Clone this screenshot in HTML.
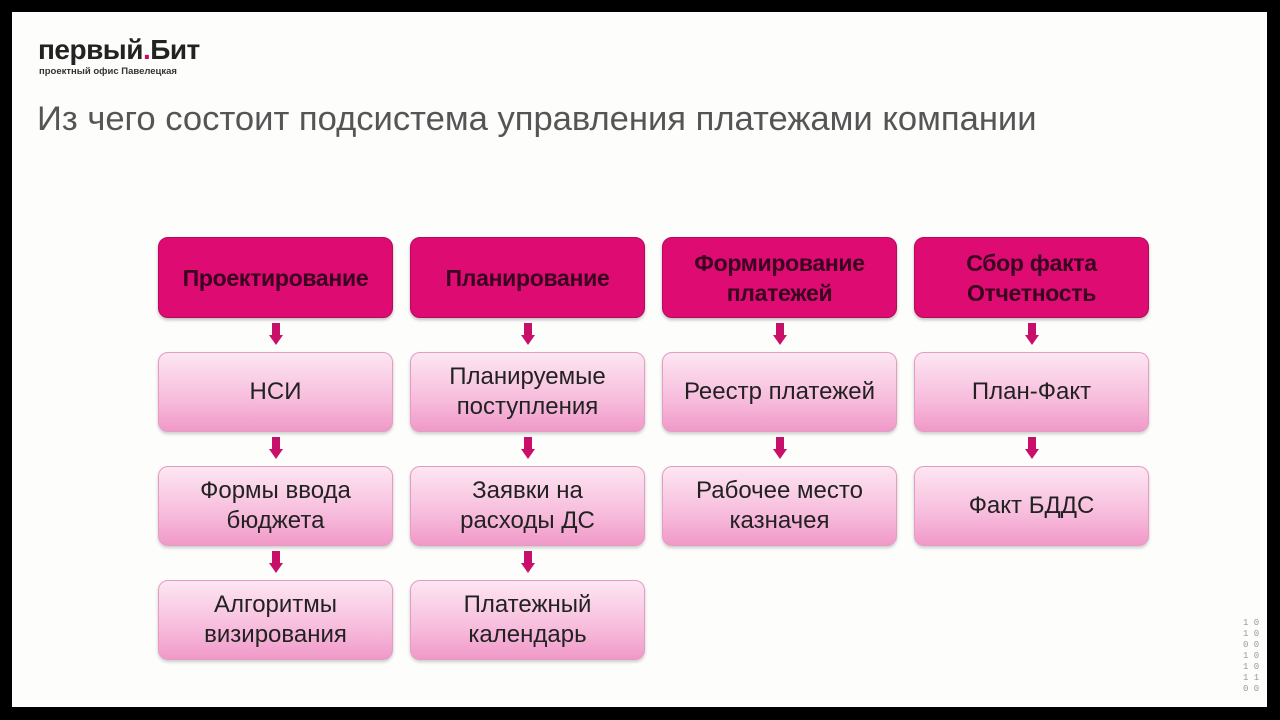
<!DOCTYPE html>
<html><head><meta charset="utf-8"><style>
body{margin:0;width:1280px;height:720px;background:#000;position:relative;overflow:hidden;font-family:"Liberation Sans",sans-serif}
.slide{position:absolute;left:12px;top:12px;width:1255px;height:695px;background:#fdfdfc}
.b{position:absolute;width:235px;border-radius:10px;display:flex;align-items:center;justify-content:center;text-align:center;font-size:24px;line-height:30px;color:#222;box-sizing:border-box}
.h{background:#dd0b72;border:1px solid #b8085e;color:#3a0020;font-weight:bold;font-size:23px;height:81px;box-shadow:0 2px 3px rgba(0,0,0,.25);letter-spacing:-0.3px}
.l{background:linear-gradient(#fde6f2,#f7bcdc 60%,#f099c8);border:1.5px solid #e49cc4;height:80px;box-shadow:0 2px 3px rgba(0,0,0,.2)}
.a{position:absolute;width:14px;height:24px}
</style></head><body>
<div class="slide"></div>
<div style="position:absolute;left:38px;top:34px;font-size:28px;font-weight:bold;color:#222;letter-spacing:-0.5px">первый<span style="color:#d4006a">.</span>Бит</div>
<div style="position:absolute;left:39px;top:66px;font-size:9.5px;font-weight:bold;color:#333">проектный офис Павелецкая</div>
<div style="position:absolute;left:37px;top:100px;font-size:34.6px;color:#555">Из чего состоит подсистема управления платежами компании</div>
<div id="c"></div>
<svg width="0" height="0" style="position:absolute"><defs><g id="ar"><rect x="3" y="0" width="8" height="12" fill="#c8106a"/><polygon points="0,12 14,12 7,22" fill="#c8106a"/></g></defs></svg>
<script>
var cols=[158,410,662,914];
var data=[["Проектирование","НСИ","Формы ввода<br>бюджета","Алгоритмы<br>визирования"],
["Планирование","Планируемые<br>поступления","Заявки на<br>расходы ДС","Платежный<br>календарь"],
["Формирование<br>платежей","Реестр платежей","Рабочее место<br>казначея"],
["Сбор факта<br>Отчетность","План-Факт","Факт БДДС"]];
var ys=[237,352,466,580],h="";
data.forEach(function(c,i){c.forEach(function(t,j){
h+='<div class="b '+(j?'l':'h')+'" style="left:'+cols[i]+'px;top:'+ys[j]+'px">'+t+'</div>';
if(j)h+='<svg class="a" style="left:'+(cols[i]+111)+'px;top:'+(ys[j]-29)+'px" viewBox="0 0 14 24"><use href="#ar"/></svg>';
});});
document.getElementById('c').innerHTML=h;
</script>
<div style="position:absolute;left:1243px;top:618px;font-size:9px;line-height:11px;color:#999;font-family:'Liberation Mono',monospace">1 0<br>1 0<br>0 0<br>1 0<br>1 0<br>1 1<br>0 0</div>
</body></html>
